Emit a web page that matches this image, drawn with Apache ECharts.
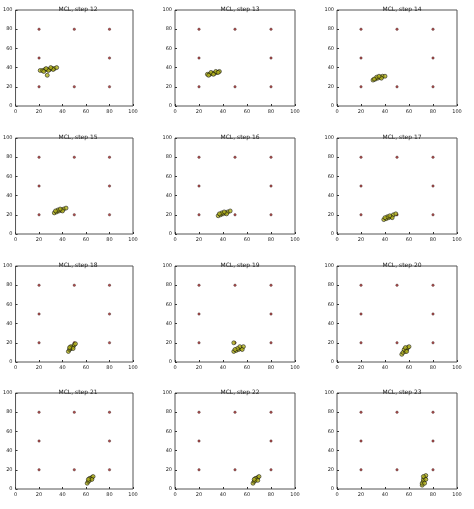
<!DOCTYPE html>
<html><head><meta charset="utf-8">
<script src="https://cdn.jsdelivr.net/npm/echarts@6/dist/echarts.min.js"></script>
<style>html,body{margin:0;background:#fff}#c{width:474px;height:509px}</style>
</head><body><div id="c"></div>
<script>
var steps = [12,13,14,15,16,17,18,19,20,21,22,23];
var landmarks = [[20,20],[20,50],[20,80],[50,20],[50,80],[80,20],[80,50],[80,80]];
// particle clouds per step
var particles = [
  [[21,37],[23,37],[25,38],[27,38],[29,38],[31,39],[33,39],[35,40],[24,36],[28,37],[32,38],[26,39],[30,40],[27,32]],
  [[27,33],[29,33],[31,34],[33,34],[35,35],[37,36],[30,35],[34,36],[28,32],[32,33],[36,35]],
  [[30,27],[32,28],[34,29],[36,30],[38,31],[40,31],[33,30],[37,29],[31,28],[35,31]],
  [[33,22],[35,23],[37,24],[39,25],[41,26],[43,27],[36,25],[40,24],[34,24],[38,26]],
  [[36,19],[38,20],[40,21],[42,22],[44,23],[46,24],[39,22],[43,21],[37,21],[41,23]],
  [[39,15],[41,16],[43,17],[45,18],[47,20],[49,21],[42,18],[46,17],[40,17],[44,19]],
  [[45,11],[46,13],[47,14],[48,15],[49,16],[50,18],[51,19],[47,16],[49,14],[46,15]],
  [[49,11],[51,12],[53,13],[55,14],[57,16],[54,16],[52,14],[56,13],[50,13],[49,20]],
  [[54,8],[55,10],[57,11],[58,13],[59,15],[60,16],[56,13],[58,11],[57,15]],
  [[61,6],[62,8],[63,9],[64,11],[65,12],[66,13],[63,11],[65,10],[62,10]],
  [[65,6],[66,8],[67,9],[68,11],[69,12],[70,13],[67,11],[69,9],[66,10]],
  [[71,4],[71,6],[72,8],[72,10],[73,12],[74,14],[74,10],[73,6],[72,13]]
];
var colL = [13, 175, 337], colW = 120;
var rowT = [10, 138, 266, 393], rowH = 96;
var grid = [], xAxis = [], yAxis = [], title = [], series = [];
steps.forEach(function (s, i) {
  var r = Math.floor(i / 3), c = i % 3;
  grid.push({left: colL[c], top: rowT[r], width: colW, height: rowH, show: true, borderColor: '#555', borderWidth: 1, backgroundColor: '#fff'});
  var ax = {gridIndex: i, min: 0, max: 100, interval: 20, splitLine: {show: false},
    axisLine: {show: false}, axisTick: {show: true, inside: true, length: 2, lineStyle: {color: '#333'}},
    axisLabel: {fontSize: 5, color: '#222', margin: 3, fontFamily: 'DejaVu Sans'}};
  xAxis.push(Object.assign({type: 'value'}, ax));
  yAxis.push(Object.assign({type: 'value'}, ax));
  title.push({text: 'MCL, step ' + s, left: colL[c] + colW / 2, top: rowT[r] - 9, textAlign: 'center',
    textStyle: {fontSize: 6, fontWeight: 'normal', color: '#222', fontFamily: 'DejaVu Sans'}});
  series.push({type: 'scatter', xAxisIndex: i, yAxisIndex: i, data: landmarks, symbolSize: 2.5,
    itemStyle: {color: '#a02020', borderColor: '#222', borderWidth: 0.4}, silent: true});
  series.push({type: 'scatter', xAxisIndex: i, yAxisIndex: i, data: particles[i], symbolSize: 4,
    itemStyle: {color: '#b4b41c', borderColor: '#111', borderWidth: 0.7}, silent: true});
});
var chart = echarts.init(document.getElementById('c'));
chart.setOption({animation: false, title: title, grid: grid, xAxis: xAxis, yAxis: yAxis, series: series});
</script></body></html>
